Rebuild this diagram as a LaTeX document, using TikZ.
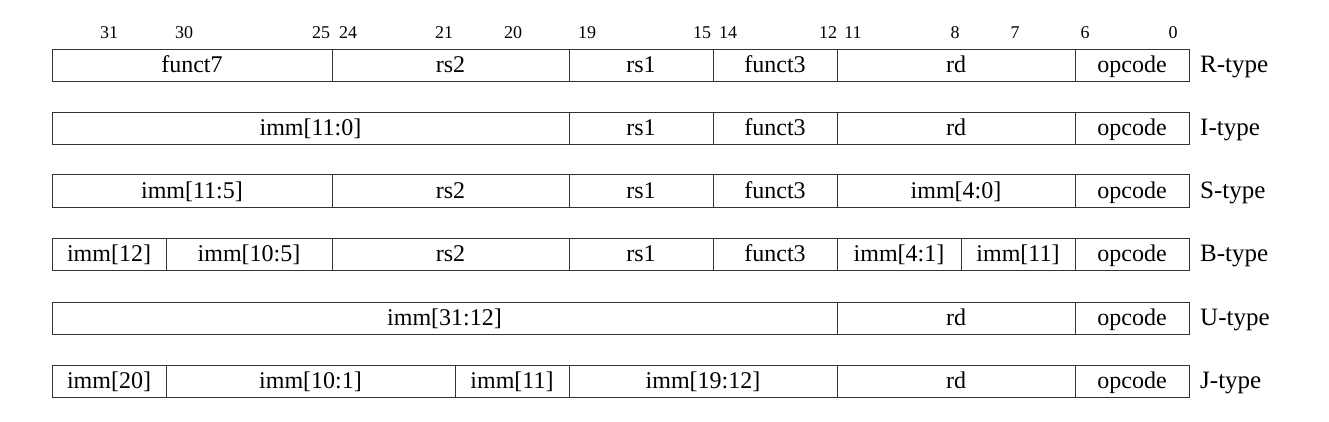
\documentclass[tikz,border=0pt]{standalone}
\usepackage{fontspec}
\setmainfont{Liberation Serif}
\usetikzlibrary{positioning}

\tikzset{
  fieldbox/.style={draw=black!80, line width=1pt, rectangle, minimum height=32pt,
    inner sep=0pt, text height=17pt, text depth=3pt, font=\fontsize{24}{27}\selectfont},
  bitnum/.style={anchor=base, inner sep=0pt, font=\fontsize{18}{21}\selectfont},
  typelabel/.style={anchor=base west, inner sep=0pt, font=\fontsize{25}{28}\selectfont}
}

\begin{document}
\begin{tikzpicture}[x=1pt,y=-1pt]
\useasboundingbox (0,0) rectangle (1329,422);

% bit numbers on top
\foreach \x/\b in {109/31, 184/30, 321/25, 348/24, 444/21, 513/20, 587/19, 702/15,
                   728/14, 828/12, 853/11, 955/8, 1015/7, 1085/6, 1173/0}
  \node[bitnum] (bit\b) at (\x,39) {\b};

% R-type
\foreach \l/\r/\nm/\txt in {52/332/funct7/funct7, 332/569/rs2/rs2, 569/713/rs1/rs1,
                            713/837/funct3/funct3, 837/1075/rd/rd, 1075/1189/opcode/opcode}
  \node[fieldbox, minimum width={(\r-\l)*1pt}] (R-\nm) at ({(\l+\r)/2},66) {\txt};
\node[typelabel] (R-type) at (1200,73) {R-type};

% I-type
\foreach \l/\r/\nm/\txt in {52/569/imm/{imm[11:0]}, 569/713/rs1/rs1,
                            713/837/funct3/funct3, 837/1075/rd/rd, 1075/1189/opcode/opcode}
  \node[fieldbox, minimum width={(\r-\l)*1pt}] (I-\nm) at ({(\l+\r)/2},129) {\txt};
\node[typelabel] (I-type) at (1200,136) {I-type};

% S-type
\foreach \l/\r/\nm/\txt in {52/332/immhi/{imm[11:5]}, 332/569/rs2/rs2, 569/713/rs1/rs1,
                            713/837/funct3/funct3, 837/1075/immlo/{imm[4:0]}, 1075/1189/opcode/opcode}
  \node[fieldbox, minimum width={(\r-\l)*1pt}] (S-\nm) at ({(\l+\r)/2},191) {\txt};
\node[typelabel] (S-type) at (1200,198) {S-type};

% B-type
\foreach \l/\r/\nm/\txt in {52/166/immtop/{imm[12]}, 166/332/immhi/{imm[10:5]}, 332/569/rs2/rs2,
                            569/713/rs1/rs1, 713/837/funct3/funct3, 837/961/immlo/{imm[4:1]},
                            961/1075/immbit/{imm[11]}, 1075/1189/opcode/opcode}
  \node[fieldbox, minimum width={(\r-\l)*1pt}] (B-\nm) at ({(\l+\r)/2},254) {\txt};
\node[typelabel] (B-type) at (1200,261) {B-type};

% U-type
\foreach \l/\r/\nm/\txt in {52/837/imm/{imm[31:12]}, 837/1075/rd/rd, 1075/1189/opcode/opcode}
  \node[fieldbox, minimum width={(\r-\l)*1pt}] (U-\nm) at ({(\l+\r)/2},318) {\txt};
\node[typelabel] (U-type) at (1200,325) {U-type};

% J-type
\foreach \l/\r/\nm/\txt in {52/166/immtop/{imm[20]}, 166/455/immlo/{imm[10:1]}, 455/569/immbit/{imm[11]},
                            569/837/immmid/{imm[19:12]}, 837/1075/rd/rd, 1075/1189/opcode/opcode}
  \node[fieldbox, minimum width={(\r-\l)*1pt}] (J-\nm) at ({(\l+\r)/2},381) {\txt};
\node[typelabel] (J-type) at (1200,388) {J-type};

\end{tikzpicture}
\end{document}
